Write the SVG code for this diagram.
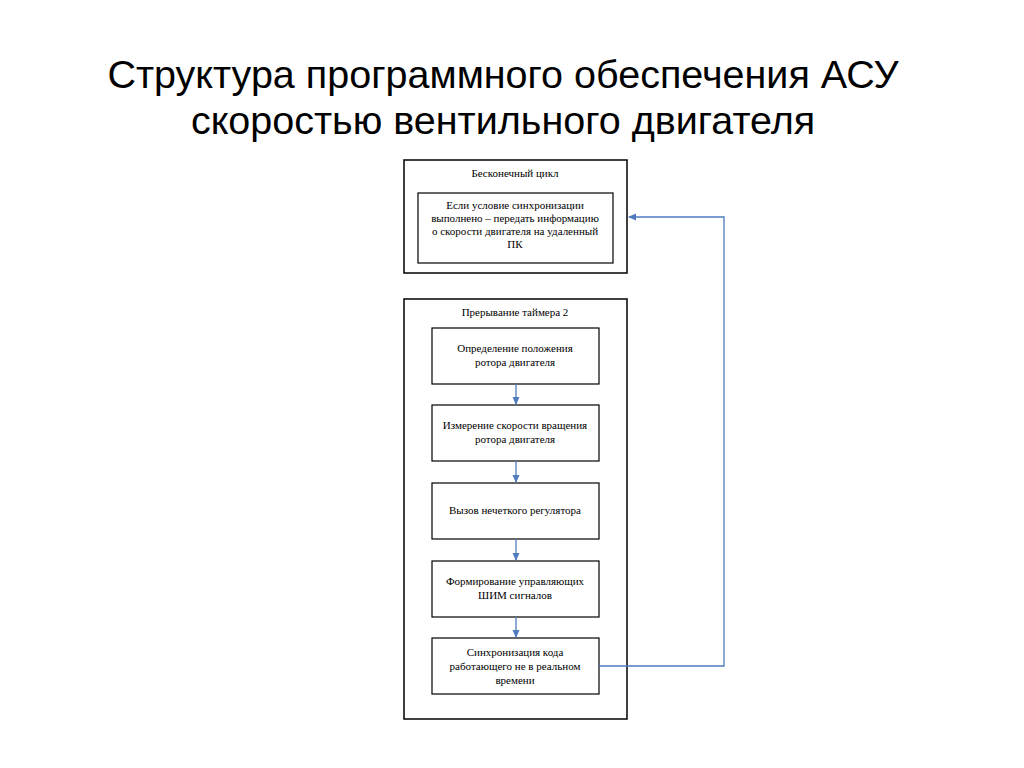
<svg xmlns="http://www.w3.org/2000/svg" width="1024" height="768" viewBox="0 0 1024 768">
<style>
.t{font-family:"Liberation Sans",Arial,sans-serif;font-size:39.5px;fill:#000;text-anchor:middle}
.s{font-family:"Liberation Serif","Times New Roman",serif;font-size:11px;fill:#000;text-anchor:middle}
.o{fill:#fff;stroke:#000;stroke-width:1.5}
.b{fill:#fff;stroke:#000;stroke-width:1.2}
.c{fill:none;stroke:#4f7bbf;stroke-width:1.3}
</style>
<defs><marker id="a" markerWidth="8" markerHeight="8" refX="7" refY="4" orient="auto" markerUnits="userSpaceOnUse"><path d="M0,0.5 L8,4 L0,7.5 Z" fill="#4f7bbf"/></marker></defs>
<rect width="1024" height="768" fill="#fff"/>
<text class="t" x="503" y="88">Структура программного обеспечения АСУ</text>
<text class="t" x="503" y="134">скоростью вентильного двигателя</text>
<g id="loop"><rect class="o" x="404" y="160" width="223" height="113"/><text class="s" x="515" y="177">Бесконечный цикл</text></g>
<g id="send"><rect class="b" x="418" y="193" width="195" height="70"/>
<text class="s" x="515" y="209">Если условие синхронизации</text><text class="s" x="515" y="222">выполнено – передать информацию</text><text class="s" x="515" y="235">о скорости двигателя на удаленный</text><text class="s" x="515" y="248">ПК</text></g>
<g id="timer"><rect class="o" x="404" y="299" width="223" height="420"/><text class="s" x="515" y="316">Прерывание таймера 2</text></g>
<g id="n1"><rect class="b" x="432" y="328" width="167" height="56"/><text class="s" x="515" y="352">Определение положения</text><text class="s" x="515" y="366">ротора двигателя</text></g>
<g id="n2"><rect class="b" x="432" y="405" width="167" height="56"/><text class="s" x="515" y="429">Измерение скорости вращения</text><text class="s" x="515" y="443">ротора двигателя</text></g>
<g id="n3"><rect class="b" x="432" y="483" width="167" height="56"/><text class="s" x="515" y="514">Вызов нечеткого регулятора</text></g>
<g id="n4"><rect class="b" x="432" y="561" width="167" height="56"/><text class="s" x="515" y="585">Формирование управляющих</text><text class="s" x="515" y="599">ШИМ сигналов</text></g>
<g id="n5"><rect class="b" x="432" y="638" width="167" height="56"/><text class="s" x="515" y="656">Синхронизация кода</text><text class="s" x="515" y="670">работающего не в реальном</text><text class="s" x="515" y="684">времени</text></g>
<g id="connectors">
<line class="c" x1="516" y1="384" x2="516" y2="404" marker-end="url(#a)"/>
<line class="c" x1="516" y1="461" x2="516" y2="482" marker-end="url(#a)"/>
<line class="c" x1="516" y1="539" x2="516" y2="560" marker-end="url(#a)"/>
<line class="c" x1="516" y1="617" x2="516" y2="637" marker-end="url(#a)"/>
<polyline class="c" points="599,666 724,666 724,217 629,217" marker-end="url(#a)"/>
</g>
</svg>
